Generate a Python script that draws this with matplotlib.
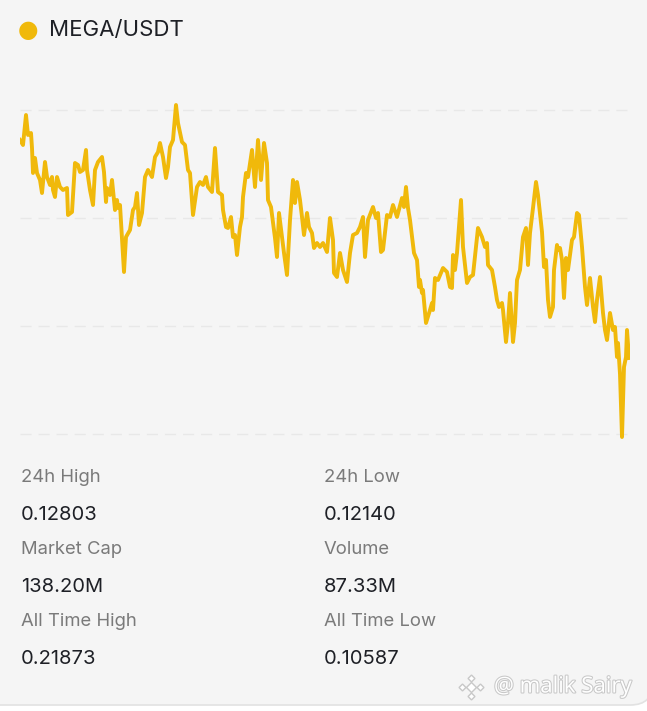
import matplotlib.pyplot as plt
import matplotlib.patheffects as pe
from matplotlib.patches import FancyBboxPatch

plt.rcParams['font.family'] = ['Inter', 'DejaVu Sans']

pair = 'MEGA/USDT'

# sample position along the 24h window (left to right)
t = [20, 23, 26, 28, 31, 32, 33, 35, 37, 40, 42, 45, 47, 50, 52, 53, 55, 57, 60, 63,
     67, 68, 72, 75, 78, 80, 83, 86, 87, 90, 93, 95, 98, 102, 104, 106, 107, 110, 112, 115,
     117, 118, 120, 124, 126, 130, 133, 135, 137, 139, 142, 145, 148, 152, 155, 158, 160, 163, 166, 168,
     170, 173, 176, 178, 182, 185, 188, 190, 193, 197, 200, 203, 206, 208, 212, 215, 218, 222, 223, 226,
     228, 231, 233, 235, 237, 240, 242, 243, 246, 248, 252, 255, 258, 261, 264, 267, 268, 271, 275, 277,
     279, 282, 284, 287, 290, 293, 295, 297, 300, 302, 304, 307, 309, 312, 314, 317, 320, 323, 327, 330,
     333, 334, 337, 340, 343, 347, 350, 353, 357, 360, 363, 365, 368, 373, 376, 378, 381, 383, 387, 390,
     393, 397, 402, 404, 406, 408, 410, 414, 417, 419, 420, 422, 423, 426, 430, 432, 433, 435, 438, 443,
     447, 450, 452, 453, 455, 457, 461, 463, 467, 470, 473, 478, 482, 485, 487, 488, 492, 495, 497, 499,
     502, 503, 506, 508, 510, 513, 515, 517, 520, 523, 526, 528, 530, 533, 536, 538, 542, 544, 546, 548,
     550, 553, 554, 557, 558, 560, 562, 564, 566, 568, 572, 574, 577, 579, 582, 585, 587, 590, 593, 595,
     597, 600, 603, 605, 607, 610, 613, 615, 617, 618, 620, 622, 624, 626, 627, 629]

price = [0.12734, 0.12724, 0.12784, 0.12744, 0.12748, 0.12718, 0.12668, 0.12698, 0.12668, 0.12654,
         0.12628, 0.12690, 0.12660, 0.12644, 0.12660, 0.12634, 0.12620, 0.12660, 0.12640, 0.12634,
         0.12638, 0.12584, 0.12590, 0.12688, 0.12684, 0.12670, 0.12674, 0.12714, 0.12674, 0.12634,
         0.12604, 0.12674, 0.12690, 0.12700, 0.12670, 0.12610, 0.12638, 0.12624, 0.12654, 0.12594,
         0.12614, 0.12598, 0.12604, 0.12470, 0.12540, 0.12554, 0.12594, 0.12600, 0.12628, 0.12564,
         0.12588, 0.12660, 0.12674, 0.12660, 0.12700, 0.12710, 0.12728, 0.12700, 0.12658, 0.12680,
         0.12720, 0.12734, 0.12804, 0.12768, 0.12730, 0.12724, 0.12674, 0.12668, 0.12584, 0.12640,
         0.12650, 0.12644, 0.12660, 0.12640, 0.12630, 0.12718, 0.12630, 0.12624, 0.12594, 0.12560,
         0.12558, 0.12580, 0.12540, 0.12544, 0.12504, 0.12560, 0.12580, 0.12620, 0.12668, 0.12660,
         0.12714, 0.12640, 0.12734, 0.12654, 0.12728, 0.12688, 0.12614, 0.12600, 0.12538, 0.12500,
         0.12588, 0.12540, 0.12508, 0.12464, 0.12574, 0.12654, 0.12608, 0.12650, 0.12614, 0.12580,
         0.12544, 0.12588, 0.12560, 0.12548, 0.12518, 0.12528, 0.12520, 0.12528, 0.12510, 0.12578,
         0.12534, 0.12468, 0.12460, 0.12508, 0.12474, 0.12450, 0.12508, 0.12544, 0.12548, 0.12560,
         0.12580, 0.12500, 0.12574, 0.12600, 0.12578, 0.12588, 0.12510, 0.12514, 0.12584, 0.12580,
         0.12604, 0.12580, 0.12618, 0.12600, 0.12640, 0.12598, 0.12574, 0.12508, 0.12494, 0.12440,
         0.12454, 0.12428, 0.12434, 0.12368, 0.12394, 0.12408, 0.12394, 0.12458, 0.12454, 0.12478,
         0.12470, 0.12440, 0.12438, 0.12504, 0.12474, 0.12508, 0.12614, 0.12520, 0.12448, 0.12460,
         0.12464, 0.12558, 0.12540, 0.12520, 0.12528, 0.12484, 0.12474, 0.12440, 0.12414, 0.12400,
         0.12408, 0.12394, 0.12330, 0.12368, 0.12428, 0.12330, 0.12368, 0.12454, 0.12474, 0.12540,
         0.12558, 0.12484, 0.12548, 0.12598, 0.12650, 0.12624, 0.12550, 0.12480, 0.12494, 0.12414,
         0.12380, 0.12400, 0.12474, 0.12524, 0.12514, 0.12518, 0.12494, 0.12418, 0.12498, 0.12474,
         0.12534, 0.12540, 0.12588, 0.12584, 0.12520, 0.12440, 0.12404, 0.12458, 0.12400, 0.12370,
         0.12414, 0.12460, 0.12388, 0.12354, 0.12334, 0.12388, 0.12354, 0.12360, 0.12300, 0.12328,
         0.12266, 0.12140, 0.12280, 0.12300, 0.12354, 0.12298]

grid_levels = [0.12146, 0.12362, 0.12578, 0.12794]

stat_labels = [['24h High', '24h Low'], ['Market Cap', 'Volume'], ['All Time High', 'All Time Low']]
stat_values = [['0.12803', '0.12140'], ['138.20M', '87.33M'], ['0.21873', '0.10587']]

W, H = 647, 711
YELLOW = '#F0B90B'
BG = '#F5F5F5'

fig = plt.figure(figsize=(W / 100, H / 100), dpi=100)
fig.patch.set_facecolor('white')

# card background with a rounded bottom-right corner
card = FancyBboxPatch((-40 / W, 6 / H), (W + 40 + 6) / W, 1.2,
                      boxstyle='round,pad=0,rounding_size=0.035',
                      transform=fig.transFigure, facecolor=BG,
                      edgecolor='#E2E2E2', linewidth=1.2, zorder=-5,
                      mutation_aspect=W / H)
fig.patches.append(card)

ax = fig.add_axes([20 / W, 1 - 440 / H, 610 / W, 340 / H])
ax.set_facecolor('none')
ax.plot(t, price, color=YELLOW, lw=2.8, solid_joinstyle='round', zorder=3)
ax.set_xlim(20, 630)
ax.set_ylim(0.12134, 0.12814)
for lvl in grid_levels:
    ax.axhline(lvl, color='#E8E8E8', lw=1.0, ls=(0, (8, 5)), zorder=1)
ax.set_xticks([])
ax.set_yticks([])
for s in ax.spines.values():
    s.set_visible(False)

# header
fig.text(28 / W, 1 - 30 / H, '\u25CF', color=YELLOW, fontsize=17,
         ha='center', va='center', family='DejaVu Sans')
fig.text(49 / W, 1 - 30 / H, pair, color='#1E2026', fontsize=16,
         ha='left', va='center')

# stats block
cols = [21, 324]
for r in range(3):
    for c in range(2):
        fig.text(cols[c] / W, 1 - (477 + 72 * r) / H, stat_labels[r][c],
                 color='#7A7A7A', fontsize=13.3, ha='left', va='center')
        fig.text(cols[c] / W, 1 - (515 + 72 * r) / H, stat_values[r][c],
                 color='#1E2026', fontsize=14.5, ha='left', va='center')

# watermark
fx = 471 / W
fy = 1 - 687 / H
wm_fx = [pe.withStroke(linewidth=1.5, foreground='#C8C8C8')]
for dx, dy, ms in [(0, 0, 5), (-9, 0, 3.5), (9, 0, 3.5), (0, 9, 3.5), (0, -9, 3.5)]:
    fig.lines.append(plt.Line2D([fx + dx / W], [fy + dy / H], marker='D', ms=ms,
                                mfc='white', mec='#C8C8C8', mew=1.0,
                                transform=fig.transFigure))
fig.text(494 / W, fy, '@ malik Sairy', color='white', fontsize=16,
         ha='left', va='center', family=['Open Sans', 'DejaVu Sans'],
         path_effects=wm_fx)

fig.savefig('out.png', dpi=100, facecolor=fig.get_facecolor())
